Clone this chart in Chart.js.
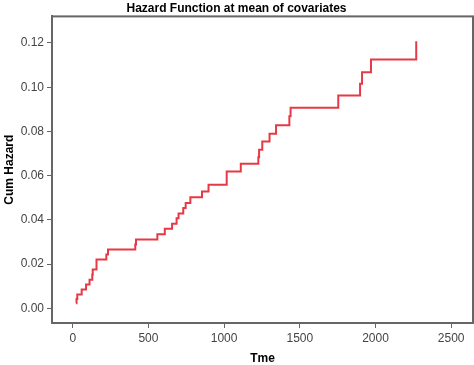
<!DOCTYPE html>
<html>
<head>
<meta charset="utf-8">
<script src="https://cdn.jsdelivr.net/npm/chart.js@4"></script>
<style>
  html, body { margin: 0; padding: 0; background: #fff; }
  #wrap { width: 474px; height: 365px; }
</style>
</head>
<body>
<div id="wrap"><canvas id="hazardChart"></canvas></div>
<script>
// event times and cumulative hazard after each step
const times = [22, 25, 30, 59, 88, 111, 129, 132, 157, 222, 233, 413, 418, 559, 608, 656, 686, 699, 730, 746, 777,
    854, 897, 1017, 1110, 1226, 1231, 1252, 1300, 1343, 1431, 1439, 1754, 1898, 1911, 1970, 2269];
const cumHazard = [0.0023, 0.0042, 0.0063, 0.0085, 0.0108, 0.0130, 0.0152, 0.0176, 0.0221, 0.0244, 0.0266, 0.0289,
    0.0311, 0.0335, 0.0360, 0.0383, 0.0407, 0.0429, 0.0454, 0.0477, 0.0503, 0.0529, 0.0559, 0.0619, 0.0654, 0.0683,
    0.0717, 0.0755, 0.0790, 0.0828, 0.0869, 0.0907, 0.0962, 0.1015, 0.1068, 0.1125, 0.1208];
const xTicks = [0, 500, 1000, 1500, 2000, 2500];
const yTicks = [0, 0.02, 0.04, 0.06, 0.08, 0.10, 0.12];

const axisGray = '#666666';
const labelFont = { family: 'Arial, "Liberation Sans", sans-serif', size: 12 };
const boldFont = { family: 'Arial, "Liberation Sans", sans-serif', size: 12, weight: 'bold', lineHeight: 1 };

// box round the plot area (top and right sides)
const frame = {
    id: 'frame',
    afterDraw(chart) {
        const a = chart.chartArea;
        const ctx = chart.ctx;
        ctx.save();
        ctx.strokeStyle = axisGray;
        ctx.lineWidth = 2;
        ctx.strokeRect(a.left, a.top, a.right - a.left, a.bottom - a.top);
        ctx.restore();
    }
};

document.addEventListener('DOMContentLoaded', function () {
    const ctx = document.getElementById('hazardChart').getContext('2d');

    new Chart(ctx, {
        type: 'line',
        data: {
            datasets: [{
                data: times.map((t, i) => ({ x: t, y: cumHazard[i] })),
                borderColor: '#e53a45',
                borderWidth: 2,
                stepped: 'before',
                pointRadius: 0,
                fill: false
            }]
        },
        options: {
            responsive: true,
            maintainAspectRatio: false,
            animation: false,
            layout: { padding: { left: 0, right: 1, top: 0, bottom: 0 } },
            scales: {
                x: {
                    type: 'linear',
                    min: -137,
                    max: 2644,
                    afterBuildTicks: (s) => { s.ticks = xTicks.map(v => ({ value: v })); },
                    afterFit: (s) => { s.height = 42; },
                    grid: { drawOnChartArea: false, color: axisGray, tickLength: 5 },
                    border: { display: true, color: axisGray, width: 2 },
                    ticks: { color: '#444', font: labelFont, padding: 3, maxRotation: 0, callback: v => String(v) },
                    title: { display: true, text: 'Tme', color: '#000', font: boldFont, padding: { top: 0, bottom: 0 } }
                },
                y: {
                    min: -0.0066,
                    max: 0.132,
                    afterBuildTicks: (s) => { s.ticks = yTicks.map(v => ({ value: v })); },
                    afterFit: (s) => { s.width = 52; },
                    grid: { drawOnChartArea: false, color: axisGray, tickLength: 5 },
                    border: { display: true, color: axisGray, width: 2 },
                    ticks: { color: '#444', font: labelFont, padding: 3, callback: v => v.toFixed(2) },
                    title: { display: true, text: 'Cum Hazard', color: '#000', font: boldFont, padding: { top: 4, bottom: 0 } }
                }
            },
            plugins: {
                legend: { display: false },
                tooltip: { enabled: false },
                title: {
                    display: true,
                    text: 'Hazard Function at mean of covariates',
                    color: '#000',
                    font: { family: 'Arial, "Liberation Sans", sans-serif', size: 12, weight: 'bold', lineHeight: 1.2 },
                    padding: { top: 1, bottom: 1 }
                }
            }
        },
        plugins: [frame]
    });
});
</script>
</body>
</html>
